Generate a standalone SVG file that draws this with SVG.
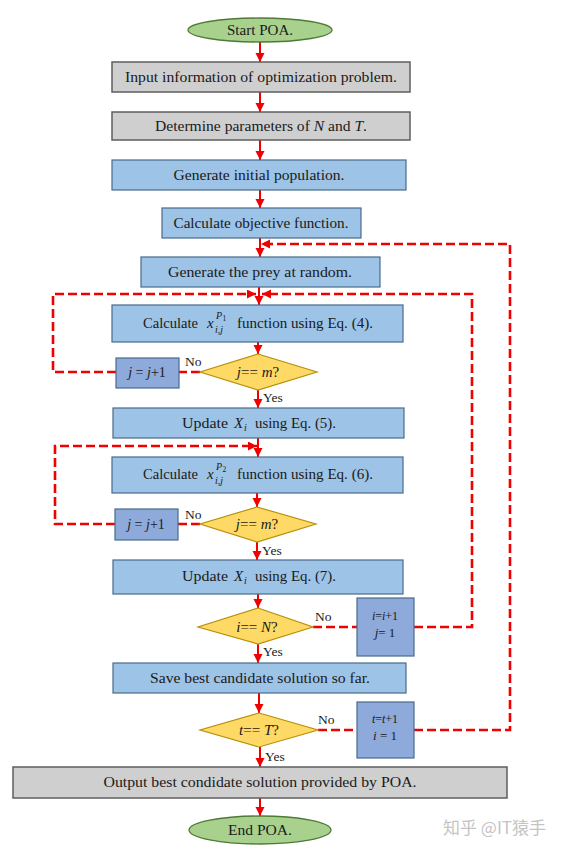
<svg xmlns="http://www.w3.org/2000/svg" width="561" height="851" viewBox="0 0 561 851">
<defs>
<marker id="ah" markerUnits="userSpaceOnUse" markerWidth="10" markerHeight="10" refX="9" refY="4.5" orient="auto">
<path d="M0,0 L9,4.5 L0,9 z" fill="#f00000"/>
</marker>
<style>
text{font-family:"Liberation Serif","DejaVu Serif",serif;fill:#1a1a1a;}
.t{font-size:15px;text-anchor:middle;}
.m{font-size:15px;}
.s{font-size:13.5px;}
.i{font-style:italic;}
.gray{fill:#cfcfcf;stroke:#5f5f5f;stroke-width:1.5;}
.blue{fill:#9dc3e6;stroke:#4a6b8c;stroke-width:1.2;}
.dblue{fill:#8eaadb;stroke:#4a6b8c;stroke-width:1.2;}
.dia{fill:#ffd966;stroke:#b8900a;stroke-width:1.2;}
.ell{fill:#a9d18e;stroke:#4f7a35;stroke-width:1.3;}
.flow{stroke:#f00000;stroke-width:2;fill:none;marker-end:url(#ah);}
.dash{stroke:#f00000;stroke-width:2.6;fill:none;stroke-dasharray:9 4;}
.dasharr{stroke:#f00000;stroke-width:2.6;fill:none;stroke-dasharray:9 4;marker-end:url(#ah);}
</style>
</defs>
<rect width="561" height="851" fill="#ffffff"/>

<g id="connectors">
<path class="flow" d="M260,42 V62"/>
<path class="flow" d="M260,92 V112"/>
<path class="flow" d="M260,140 V160"/>
<path class="flow" d="M260,190 V208"/>
<path class="flow" d="M260,238 V257"/>
<path class="flow" d="M259,287 V305"/>
<path class="flow" d="M258,342 V354"/>
<path class="flow" d="M258,390 V408"/>
<path class="flow" d="M258,438 V457"/>
<path class="flow" d="M257,493 V507"/>
<path class="flow" d="M257,542 V560"/>
<path class="flow" d="M258,594 V608"/>
<path class="flow" d="M258,644 V663"/>
<path class="flow" d="M259,693 V713"/>
<path class="flow" d="M260,747 V767"/>
<path class="flow" d="M260,798 V816"/>
<path class="dash" d="M200,372 H179"/>
<path class="dasharr" d="M116,372 H53 V294 H256"/>
<path class="dash" d="M200,524 H178"/>
<path class="dasharr" d="M115,524 H55 V446 H257"/>
<path class="dash" d="M313,627 H357"/>
<path class="dasharr" d="M414,627 H472 V294 H262"/>
<path class="dash" d="M318,730 H357"/>
<path class="dasharr" d="M414,730 H510 V244 H261"/>
</g>

<g id="start">
<ellipse class="ell" cx="260" cy="30" rx="72" ry="12"/>
<text class="t" x="260" y="35" textLength="66" lengthAdjust="spacingAndGlyphs">Start POA.</text>
</g>
<g id="input">
<rect class="gray" x="112" y="62" width="298" height="30"/>
<text class="t" x="261" y="82" textLength="272" lengthAdjust="spacingAndGlyphs">Input information of optimization problem.</text>
</g>
<g id="params">
<rect class="gray" x="112" y="112" width="298" height="28"/>
<text class="t" x="261" y="131" textLength="212" lengthAdjust="spacingAndGlyphs">Determine parameters of <tspan class="i">N</tspan> and <tspan class="i">T</tspan>.</text>
</g>
<g id="init">
<rect class="blue" x="112" y="160" width="294" height="30"/>
<text class="t" x="259" y="180" textLength="171" lengthAdjust="spacingAndGlyphs">Generate initial population.</text>
</g>
<g id="objective">
<rect class="blue" x="162" y="208" width="199" height="30"/>
<text class="t" x="261" y="228" textLength="175" lengthAdjust="spacingAndGlyphs">Calculate objective function.</text>
</g>
<g id="prey">
<rect class="blue" x="141" y="257" width="239" height="30"/>
<text class="t" x="260" y="277" textLength="184" lengthAdjust="spacingAndGlyphs">Generate the prey at random.</text>
</g>
<g id="calc4">
<rect class="blue" x="112" y="305" width="291" height="37"/>
<text class="m" x="143" y="328" textLength="55" lengthAdjust="spacingAndGlyphs">Calculate</text>
<text class="i" style="font-size:15px" x="207" y="328">x</text>
<text class="i" style="font-size:10px" x="216" y="319">P</text>
<text style="font-size:7.5px" x="222.5" y="321">1</text>
<text class="i" style="font-size:10px" x="215" y="333">i,j</text>
<text class="m" x="237" y="328" textLength="136" lengthAdjust="spacingAndGlyphs">function using Eq. (4).</text>
</g>
<g id="dec1">
<polygon class="dia" points="258,354 317,372 258,390 200,372"/>
<text class="t" x="258" y="377"><tspan class="i">j</tspan>== <tspan class="i">m</tspan>?</text>
</g>
<g id="jinc1">
<rect class="dblue" x="116" y="358" width="63" height="30"/>
<text class="t" x="147" y="377" style="font-size:14px"><tspan class="i">j</tspan> = <tspan class="i">j</tspan>+1</text>
</g>
<g id="update5">
<rect class="blue" x="113" y="408" width="291" height="30"/>
<text class="m" x="182" y="428" textLength="46" lengthAdjust="spacingAndGlyphs">Update</text>
<text class="i" style="font-size:15px" x="234" y="428">X</text>
<text class="i" style="font-size:10px" x="244" y="431">i</text>
<text class="m" x="255" y="428" textLength="81" lengthAdjust="spacingAndGlyphs">using Eq. (5).</text>
</g>
<g id="calc6">
<rect class="blue" x="112" y="457" width="291" height="36"/>
<text class="m" x="143" y="479" textLength="55" lengthAdjust="spacingAndGlyphs">Calculate</text>
<text class="i" style="font-size:15px" x="207" y="479">x</text>
<text class="i" style="font-size:10px" x="216" y="470">P</text>
<text style="font-size:7.5px" x="222.5" y="472">2</text>
<text class="i" style="font-size:10px" x="215" y="484">i,j</text>
<text class="m" x="237" y="479" textLength="136" lengthAdjust="spacingAndGlyphs">function using Eq. (6).</text>
</g>
<g id="dec2">
<polygon class="dia" points="257,507 316,524 257,542 200,524"/>
<text class="t" x="257" y="529"><tspan class="i">j</tspan>== <tspan class="i">m</tspan>?</text>
</g>
<g id="jinc2">
<rect class="dblue" x="115" y="509" width="63" height="31"/>
<text class="t" x="146" y="529" style="font-size:14px"><tspan class="i">j</tspan> = <tspan class="i">j</tspan>+1</text>
</g>
<g id="update7">
<rect class="blue" x="113" y="560" width="290" height="34"/>
<text class="m" x="182" y="581" textLength="46" lengthAdjust="spacingAndGlyphs">Update</text>
<text class="i" style="font-size:15px" x="234" y="581">X</text>
<text class="i" style="font-size:10px" x="244" y="584">i</text>
<text class="m" x="255" y="581" textLength="81" lengthAdjust="spacingAndGlyphs">using Eq. (7).</text>
</g>
<g id="dec3">
<polygon class="dia" points="258,608 313,627 258,644 198,627"/>
<text class="t" x="257" y="632"><tspan class="i">i</tspan>== <tspan class="i">N</tspan>?</text>
</g>
<g id="iinc">
<rect class="dblue" x="357" y="598" width="57" height="58"/>
<text class="t" x="385" y="620" style="font-size:12px"><tspan class="i">i</tspan>=<tspan class="i">i</tspan>+1</text>
<text class="t" x="385" y="637" style="font-size:13px"><tspan class="i">j</tspan>= 1</text>
</g>
<g id="save">
<rect class="blue" x="113" y="663" width="293" height="30"/>
<text class="t" x="260" y="683" textLength="220" lengthAdjust="spacingAndGlyphs">Save best candidate solution so far.</text>
</g>
<g id="dec4">
<polygon class="dia" points="259,713 318,730 259,747 200,730"/>
<text class="t" x="259" y="735"><tspan class="i">t</tspan>== <tspan class="i">T</tspan>?</text>
</g>
<g id="tinc">
<rect class="dblue" x="357" y="702" width="57" height="56"/>
<text class="t" x="385" y="723" style="font-size:12px"><tspan class="i">t</tspan>=<tspan class="i">t</tspan>+1</text>
<text class="t" x="385" y="740" style="font-size:13px"><tspan class="i">i</tspan> = 1</text>
</g>
<g id="output">
<rect class="gray" x="13" y="767" width="494" height="31"/>
<text class="t" x="260" y="787" textLength="313" lengthAdjust="spacingAndGlyphs">Output best condidate solution provided by POA.</text>
</g>
<g id="end">
<ellipse class="ell" cx="260" cy="830" rx="71" ry="14"/>
<text class="t" x="260" y="835" textLength="64" lengthAdjust="spacingAndGlyphs">End POA.</text>
</g>

<g id="labels">
<text class="s" x="185" y="366">No</text>
<text class="s" x="263" y="402">Yes</text>
<text class="s" x="185" y="519">No</text>
<text class="s" x="262" y="555">Yes</text>
<text class="s" x="315" y="621">No</text>
<text class="s" x="263" y="656">Yes</text>
<text class="s" x="318" y="724">No</text>
<text class="s" x="265" y="761">Yes</text>
</g>
<text x="443" y="834" style="font-family:'Noto Sans CJK SC','Noto Sans',sans-serif;font-size:17px;fill:#c4c4c4">知乎 @IT猿手</text>
</svg>
